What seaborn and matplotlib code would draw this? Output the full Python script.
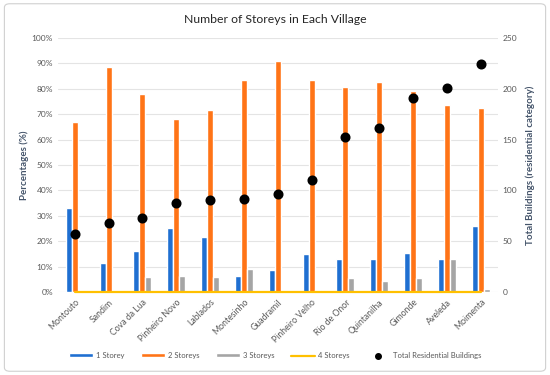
import numpy as np
import pandas as pd
import matplotlib
matplotlib.use("Agg")
import matplotlib.pyplot as plt
import seaborn as sns
from matplotlib.patches import Patch, FancyBboxPatch
from matplotlib.lines import Line2D
from matplotlib.ticker import PercentFormatter, MultipleLocator

# Data
villages = ["Montouto", "Sandim", "Cova da Lua", "Pinheiro Novo", "Lablados",
            "Montesinho", "Guadramil", "Pinheiro Velho", "Rio de Onor",
            "Quintanilha", "Gimonde", "Aveleda", "Moimenta"]
storey_1 = [33.0, 11.3, 16.1, 25.3, 21.7, 6.3, 8.7, 15.1, 13.0, 13.0, 15.2, 13.0, 25.9]
storey_2 = [66.8, 88.5, 77.8, 68.0, 71.5, 83.5, 91.0, 83.6, 80.6, 82.5, 79.0, 73.7, 72.4]
storey_3 = [0.0, 0.0, 5.9, 6.2, 5.9, 9.1, 0.0, 0.9, 5.6, 4.3, 5.4, 13.0, 1.3]
storey_4 = [0, 0, 0, 0, 0, 0, 0, 0, 0, 0, 0, 0, 0]
total_buildings = [57, 68, 73, 88, 91, 92, 96, 110, 153, 161, 191, 201, 224]

bar_labels = ["1 Storey", "2 Storeys", "3 Storeys"]
bar_colors = ["#1f6fd1", "#ff7417", "#a5a5a5"]
line_color = "#ffc000"
text_color = "#595959"
label_color = "#44546a"

# long table for the bars (fractions, axis shows percent)
df = pd.DataFrame({"village": villages * 3,
                   "share": np.array(storey_1 + storey_2 + storey_3) / 100,
                   "type": np.repeat(bar_labels, len(villages))})

sns.set_style("white")
plt.rcParams["font.family"] = ["Lato", "DejaVu Sans"]

fig = plt.figure(figsize=(5.5, 3.75), dpi=100)
ax = fig.add_axes([0.105, 0.221, 0.800, 0.678])

sns.barplot(data=df, x="village", y="share", hue="type", palette=bar_colors,
            width=0.53, saturation=1, ax=ax, legend=False, errorbar=None)

# 4 storeys drawn as a line at zero
n_before = len(ax.lines)
sns.pointplot(x=villages, y=np.array(storey_4) / 100, color=line_color,
              markers="", linewidth=1.6, ax=ax, errorbar=None)
for ln in ax.lines[n_before:]:
    ln.set_clip_on(False)
    ln.set_zorder(4)

ax2 = ax.twinx()
sns.pointplot(x=villages, y=total_buildings, color="black", linestyle="none",
              marker="o", markersize=5.2, ax=ax2, errorbar=None)

ax.set_ylim(0, 1)
ax.yaxis.set_major_locator(MultipleLocator(0.1))
ax.yaxis.set_major_formatter(PercentFormatter(1.0, decimals=0))
ax2.set_ylim(0, 250)
ax2.yaxis.set_major_locator(MultipleLocator(50))
ax.set_xlim(-0.5, len(villages) - 0.5)

ax.grid(axis="y", color="#e4e4e4", linewidth=0.8)
ax.set_axisbelow(True)
for a in (ax, ax2):
    for s in a.spines.values():
        s.set_visible(False)
    a.tick_params(length=0, labelsize=6, colors=text_color)

ax.set_xlabel("")
ax.set_xticks(range(len(villages)))
ax.set_xticklabels(villages, rotation=45, ha="right", rotation_mode="anchor",
                   fontsize=6.3, color=text_color)
ax.tick_params(axis="x", pad=4)
ax.set_ylabel("Percentages (%)", fontsize=7, fontweight="bold", color=label_color, labelpad=2)
ax2.set_ylabel("Total Buildings (residential category)", fontsize=7,
               fontweight="bold", color=label_color, labelpad=6)
ax2.set_xlabel("")

fig.text(0.5, 0.947, "Number of Storeys in Each Village", ha="center", va="center",
         fontsize=8.8, color="#262626")

handles = [Patch(facecolor=c, label=l) for c, l in zip(bar_colors, bar_labels)]
handles.append(Line2D([], [], color=line_color, linewidth=1.6, label="4 Storeys"))
handles.append(Line2D([], [], color="black", marker="o", linestyle="none",
                      markersize=4, label="Total Residential Buildings"))
fig.legend(handles=handles, loc="center", bbox_to_anchor=(0.5, 0.052), ncol=5,
           frameon=False, fontsize=5.5, handlelength=3.2, handleheight=0.5,
           columnspacing=2.2, handletextpad=0.3, labelcolor=text_color)

# thin rounded border round the chart
fig.patches.append(FancyBboxPatch((0.008, 0.01), 0.984, 0.98, boxstyle="round,pad=0,rounding_size=0.01",
                                  transform=fig.transFigure, fill=False,
                                  edgecolor="#d0d0d0", linewidth=0.8))

fig.savefig("out.png", dpi=100)
